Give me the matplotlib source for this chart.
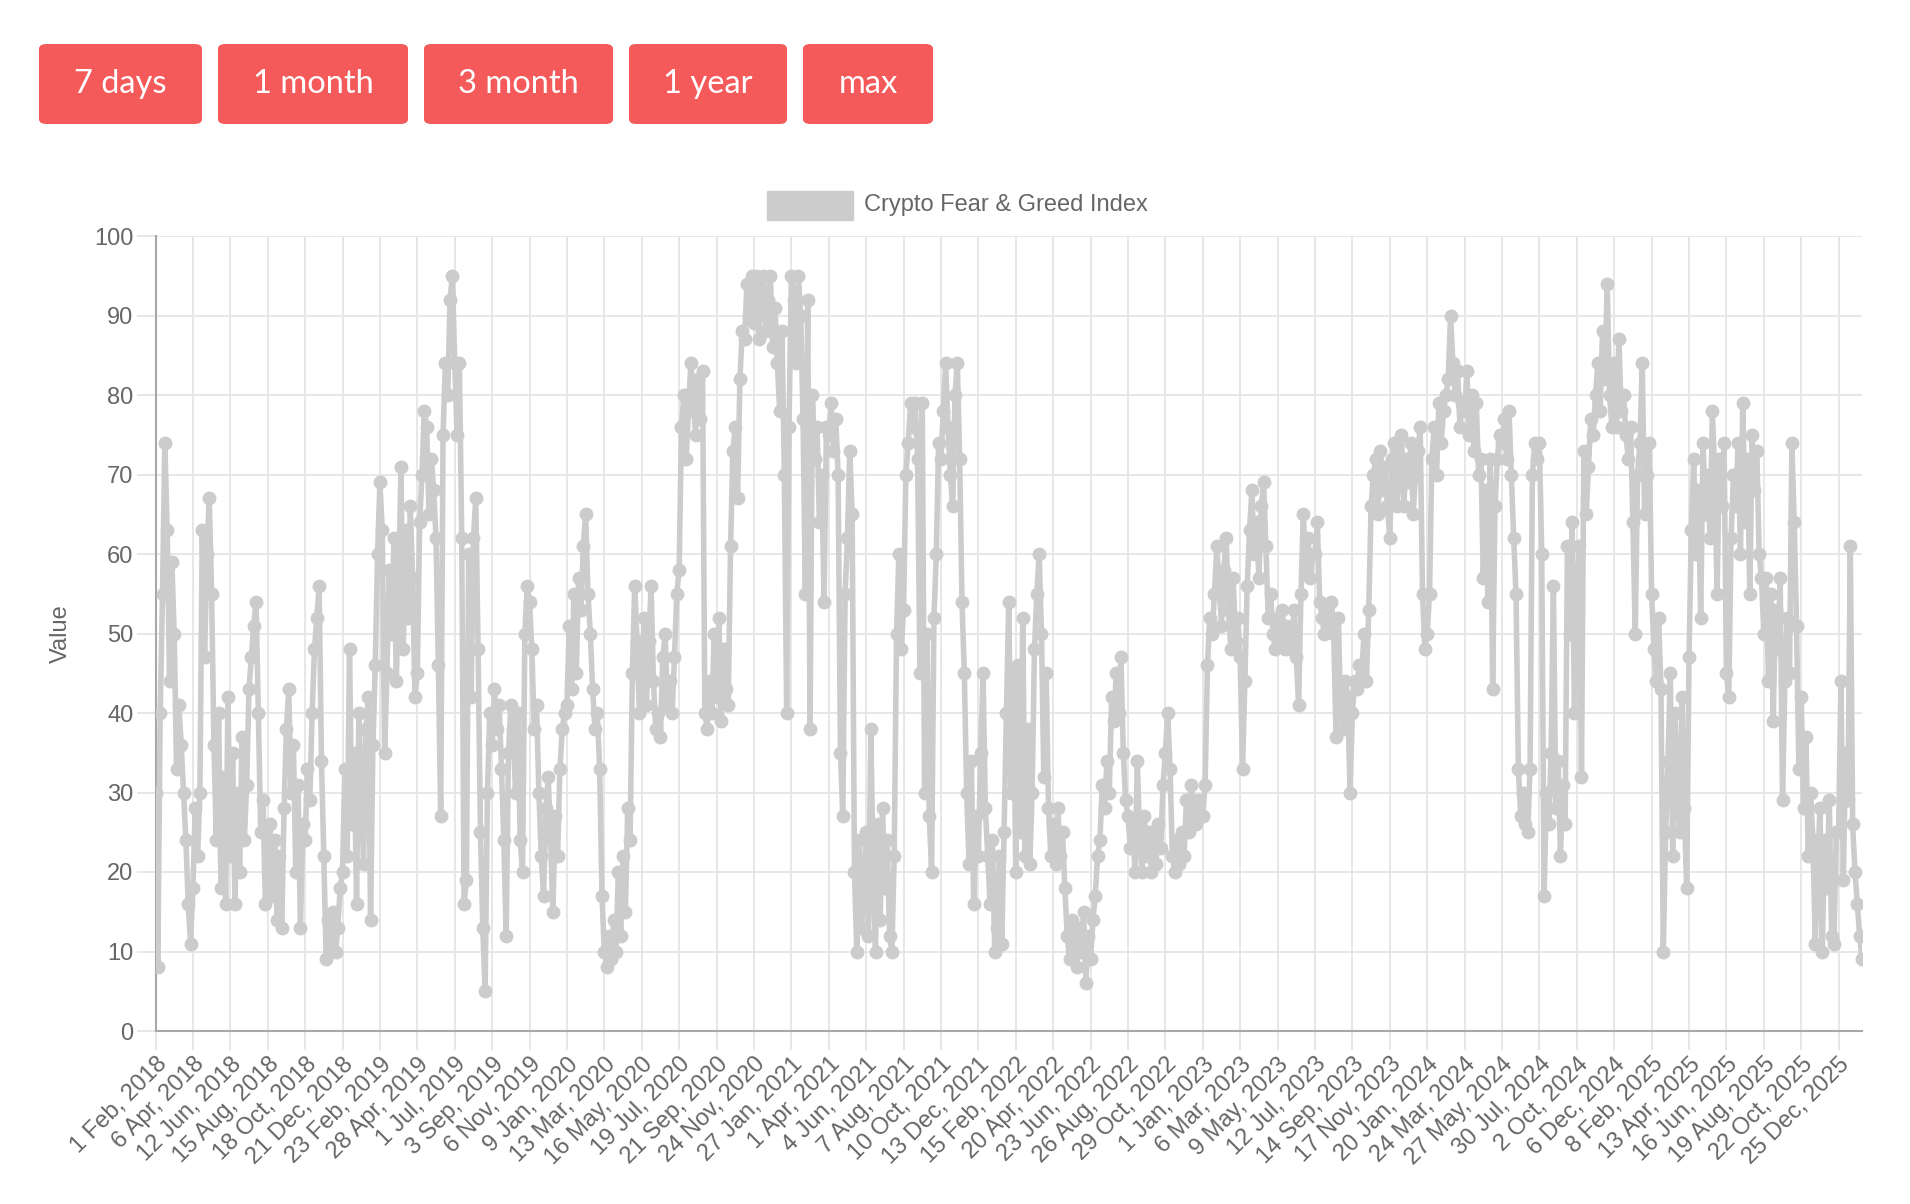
import numpy as np
import matplotlib.pyplot as plt
from matplotlib.patches import FancyBboxPatch, Rectangle

plt.rcParams['font.family'] = ['Liberation Sans', 'DejaVu Sans']

# readings every 4th day, grouped by the x-label each run of 16 starts at
fg_2018 = [30, 8, 40, 55, 74, 63, 44, 59, 50, 33, 41, 36, 30, 24, 16, 11,
           18, 28, 22, 30, 63, 47, 60, 67, 55, 36, 24, 40, 18, 32, 16, 42,
           22, 35, 16, 30, 20, 37, 24, 31, 43, 47, 51, 54, 40, 25, 29, 16,
           20, 26, 17, 24, 14, 22, 13, 28, 38, 43, 30, 36, 20, 31, 13, 26,
           24, 33, 29, 40, 48, 52, 56, 34, 22, 9, 14, 11, 15, 10, 13, 18,
           20, 33, 22, 48, 26, 35, 16, 40, 30, 21, 38, 42, 14, 36, 46, 60]
fg_2019 = [69, 63, 35, 45, 58, 50, 62, 44, 55, 71, 48, 63, 52, 66, 57, 42,
           45, 64, 70, 78, 76, 65, 72, 68, 62, 46, 27, 75, 84, 80, 92, 95,
           84, 75, 84, 62, 16, 19, 60, 42, 62, 67, 48, 25, 13, 5, 30, 40,
           36, 43, 38, 41, 33, 24, 12, 35, 41, 38, 30, 40, 24, 20, 50, 56,
           54, 48, 38, 41, 30, 22, 17, 28, 32, 24, 15, 27, 22, 33, 38, 40]
fg_2020 = [41, 51, 43, 55, 45, 57, 53, 61, 65, 55, 50, 43, 38, 40, 33, 17,
           10, 8, 12, 9, 14, 10, 20, 12, 22, 15, 28, 24, 45, 56, 49, 40,
           44, 52, 41, 49, 56, 44, 38, 40, 37, 47, 50, 41, 44, 40, 47, 55,
           58, 76, 80, 72, 78, 84, 80, 75, 82, 77, 83, 40, 38, 44, 40, 50,
           42, 52, 39, 48, 43, 41, 61, 73, 76, 67, 82, 88, 87, 94, 90, 95,
           89, 95, 87, 93, 95, 88, 92, 95, 86, 91, 84, 78, 88, 70, 40, 76]
fg_2021 = [95, 92, 84, 95, 90, 77, 55, 92, 38, 80, 72, 76, 64, 70, 54, 76,
           75, 79, 73, 77, 70, 35, 27, 55, 62, 73, 65, 20, 10, 24, 13, 18,
           25, 12, 38, 20, 10, 26, 14, 28, 18, 24, 12, 10, 22, 50, 60, 48,
           53, 70, 74, 79, 76, 79, 72, 45, 79, 30, 50, 27, 20, 52, 60, 74,
           72, 78, 84, 76, 70, 66, 80, 84, 72, 54, 45, 30, 21, 34, 16, 27,
           22, 35, 45, 28, 22, 16, 24, 10, 13, 22, 11, 25, 40, 54, 30, 45]
fg_2022 = [20, 46, 25, 52, 22, 38, 21, 30, 48, 55, 60, 50, 32, 45, 28, 22,
           26, 21, 28, 22, 25, 18, 12, 9, 14, 11, 8, 13, 10, 15, 6, 12,
           9, 14, 17, 22, 24, 31, 28, 34, 30, 42, 39, 45, 40, 47, 35, 29,
           27, 23, 26, 20, 34, 24, 20, 27, 22, 25, 20, 24, 21, 26, 23, 31,
           35, 40, 33, 22, 20, 24, 21, 25, 22, 29, 25, 31, 28, 26, 29, 27]
fg_2023 = [27, 31, 46, 52, 50, 55, 61, 56, 51, 58, 62, 53, 48, 57, 49, 52,
           47, 33, 44, 56, 63, 68, 60, 64, 57, 66, 69, 61, 52, 55, 50, 48,
           52, 49, 53, 48, 51, 50, 48, 53, 47, 41, 55, 65, 58, 62, 57, 60,
           60, 64, 54, 52, 50, 53, 51, 54, 50, 37, 52, 40, 38, 44, 42, 30,
           40, 44, 43, 46, 45, 50, 44, 53, 66, 70, 72, 65, 73, 68, 71, 66,
           62, 72, 74, 66, 70, 75, 66, 72, 69, 74, 65, 70, 73, 76, 55, 48]
fg_2024 = [50, 55, 72, 76, 70, 79, 74, 78, 80, 82, 90, 84, 80, 83, 76, 79,
           78, 83, 75, 80, 73, 79, 70, 72, 57, 68, 54, 72, 43, 66, 72, 75,
           74, 77, 72, 78, 70, 62, 55, 33, 27, 30, 26, 25, 33, 70, 74, 72,
           74, 60, 17, 30, 26, 35, 56, 28, 34, 22, 31, 26, 61, 50, 64, 40,
           55, 61, 32, 73, 65, 71, 77, 75, 80, 84, 78, 88, 82, 94, 80, 76,
           84, 76, 87, 78, 80, 75, 72, 76, 64, 50, 70, 74, 84, 65, 70, 74]
fg_2025 = [55, 48, 44, 52, 43, 10, 25, 34, 45, 22, 40, 30, 25, 42, 28, 18,
           47, 63, 72, 60, 68, 52, 74, 65, 70, 62, 78, 70, 55, 72, 66, 74,
           45, 42, 62, 70, 66, 74, 60, 79, 64, 72, 55, 75, 68, 73, 60, 57,
           50, 57, 44, 55, 39, 53, 48, 57, 29, 44, 52, 45, 74, 64, 51, 33,
           42, 28, 37, 22, 30, 24, 11, 20, 28, 10, 24, 18, 29, 12, 11, 25,
           25, 44, 19, 35, 29, 61, 26, 20, 16, 12, 9]

tick_labels = ["1 Feb, 2018", "6 Apr, 2018", "12 Jun, 2018", "15 Aug, 2018", "18 Oct, 2018", "21 Dec, 2018",
               "23 Feb, 2019", "28 Apr, 2019", "1 Jul, 2019", "3 Sep, 2019", "6 Nov, 2019",
               "9 Jan, 2020", "13 Mar, 2020", "16 May, 2020", "19 Jul, 2020", "21 Sep, 2020", "24 Nov, 2020",
               "27 Jan, 2021", "1 Apr, 2021", "4 Jun, 2021", "7 Aug, 2021", "10 Oct, 2021", "13 Dec, 2021",
               "15 Feb, 2022", "20 Apr, 2022", "23 Jun, 2022", "26 Aug, 2022", "29 Oct, 2022",
               "1 Jan, 2023", "6 Mar, 2023", "9 May, 2023", "12 Jul, 2023", "14 Sep, 2023", "17 Nov, 2023",
               "20 Jan, 2024", "24 Mar, 2024", "27 May, 2024", "30 Jul, 2024", "2 Oct, 2024", "6 Dec, 2024",
               "8 Feb, 2025", "13 Apr, 2025", "16 Jun, 2025", "19 Aug, 2025", "22 Oct, 2025", "25 Dec, 2025"]
buttons = ["7 days", "1 month", "3 month", "1 year", "max"]

step = 4          # days between readings
label_every = 64  # days between x labels

values = fg_2018 + fg_2019 + fg_2020 + fg_2021 + fg_2022 + fg_2023 + fg_2024 + fg_2025
x = np.arange(len(values)) * step

fig = plt.figure(figsize=(19.1, 12.04), dpi=100)
W, H = 1910, 1204
ax = fig.add_axes([155.5 / W, 1 - 1031 / H, (1862 - 155.5) / W, (1031 - 236) / H])

ax.plot(x, values, color='#cccccc', lw=4, marker='o', ms=9, mec='#cccccc', mfc='#cccccc', zorder=3)

ax.set_xlim(0, x[-1])
ax.set_ylim(0, 100)
ax.set_yticks(range(0, 101, 10))
ax.set_xticks(np.arange(len(tick_labels)) * label_every)
ax.set_xticklabels(tick_labels, rotation=45, ha='right', va='top', rotation_mode='anchor')
ax.grid(True, color='#e5e5e5', lw=1.3, zorder=0)
ax.tick_params(axis='both', colors='#e5e5e5', labelcolor='#666666', labelsize=17, length=14, width=1.3, pad=2)
for s in ['top', 'right']:
    ax.spines[s].set_visible(False)
for s in ['left', 'bottom']:
    ax.spines[s].set_color('#a8a8a8')
    ax.spines[s].set_linewidth(1.5)

fig.text(61 / W, 1 - 634 / H, 'Value', rotation=90, ha='center', va='center', fontsize=17, color='#666666')

# legend
fig.add_artist(Rectangle((767 / W, 1 - 220 / H), 86 / W, 29 / H, transform=fig.transFigure,
                         facecolor='#cccccc', edgecolor='#cccccc'))
fig.text(864 / W, 1 - 205 / H, 'Crypto Fear & Greed Index', ha='left', va='center', fontsize=17, color='#666666')

# range buttons
bx = [(39, 202), (218, 408), (424, 613), (629, 787), (803, 933)]
for (x0, x1), lab in zip(bx, buttons):
    fig.add_artist(FancyBboxPatch((x0 / W, 1 - 124 / H), (x1 - x0) / W, 80 / H, transform=fig.transFigure,
                                  boxstyle='round,pad=0,rounding_size=0.004', facecolor='#f55a5a', edgecolor='none'))
    fig.text((x0 + x1) / 2 / W, 1 - 84 / H, lab, ha='center', va='center', fontsize=23.5, color='white',
             family=['Lato', 'DejaVu Sans'])

fig.savefig('out.png', dpi=100, facecolor='white')
